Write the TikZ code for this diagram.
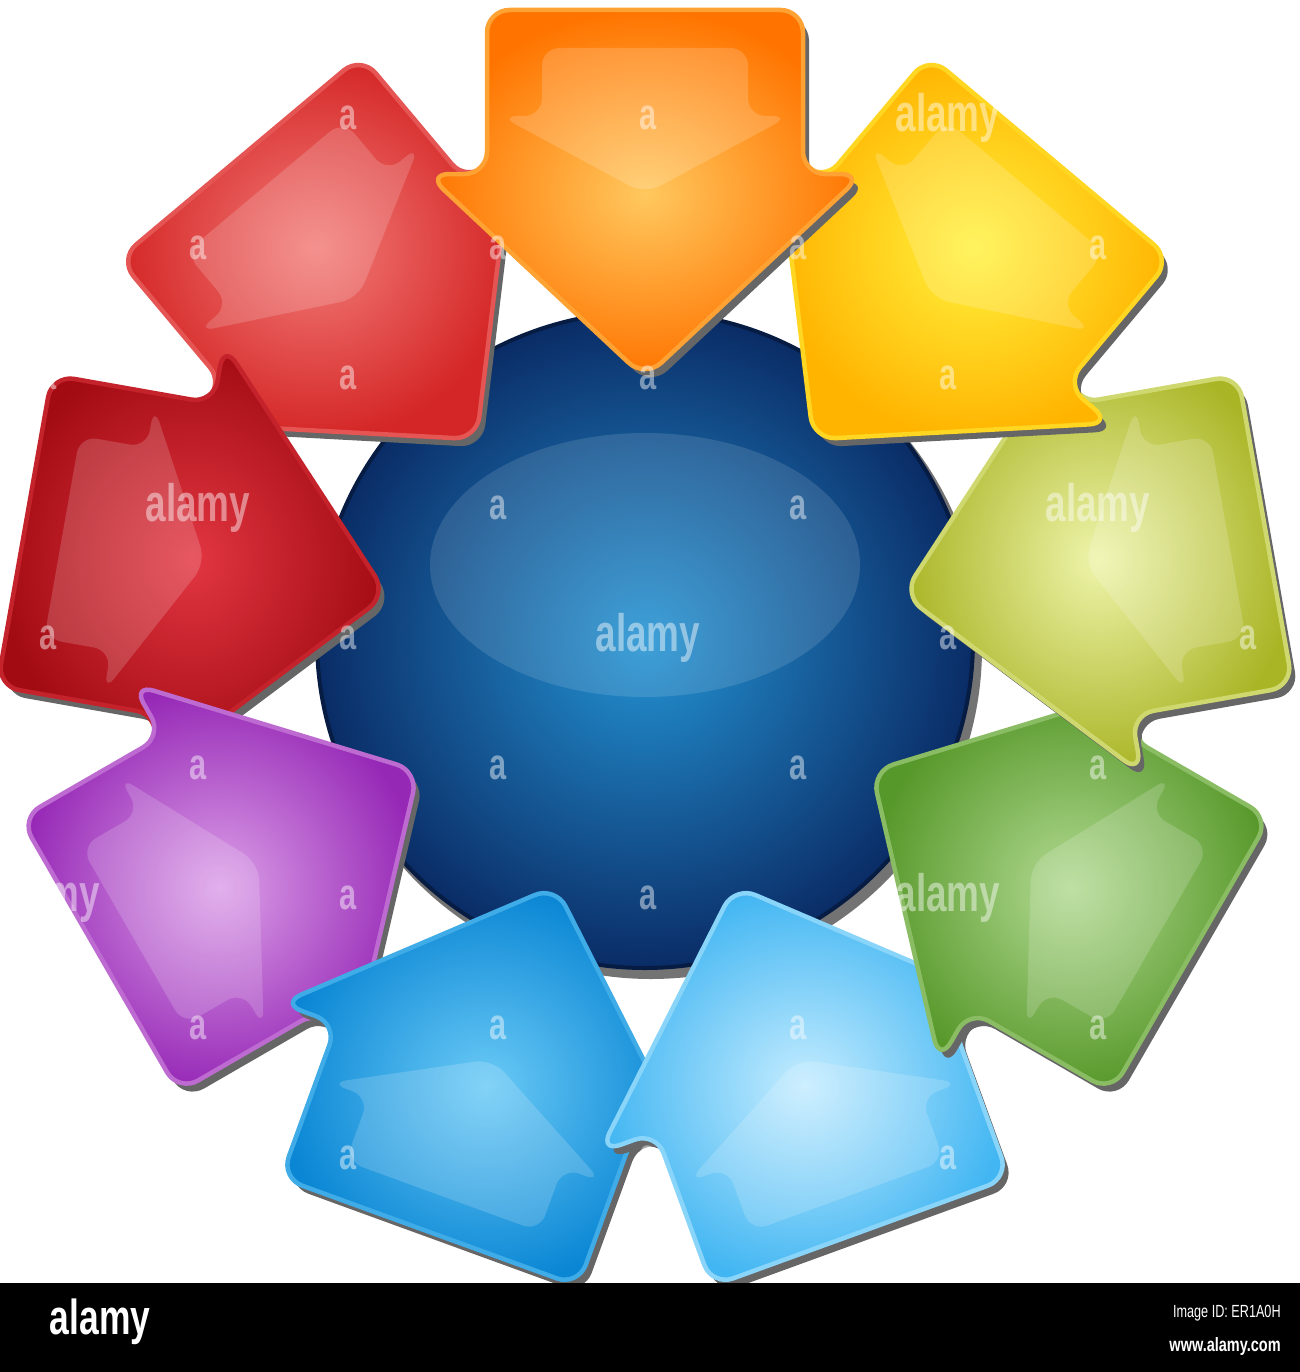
\documentclass[tikz,border=0pt]{standalone}
\usepackage{fontspec}
\setmainfont{Liberation Sans}
\usetikzlibrary{positioning}

\definecolor{redO}{HTML}{D42626}\definecolor{redI}{HTML}{F27C78}
\definecolor{dredO}{HTML}{A20B12}\definecolor{dredI}{HTML}{E23642}
\definecolor{purO}{HTML}{9628B6}\definecolor{purI}{HTML}{DCA0E8}
\definecolor{bluO}{HTML}{0A86D4}\definecolor{bluI}{HTML}{6ACAF6}
\definecolor{lbluO}{HTML}{42B6F2}\definecolor{lbluI}{HTML}{C4ECFF}
\definecolor{grnO}{HTML}{57982A}\definecolor{grnI}{HTML}{B2DA92}
\definecolor{oliO}{HTML}{AAB526}\definecolor{oliI}{HTML}{EEF4AA}
\definecolor{yelO}{HTML}{FFB400}\definecolor{yelI}{HTML}{FFF23E}
\definecolor{oraO}{HTML}{FF7400}\definecolor{oraI}{HTML}{FFC85E}
\definecolor{circO}{HTML}{0A2C66}\definecolor{circI}{HTML}{2494D4}
\definecolor{circD}{HTML}{071C42}

\newcommand{\arrowoutline}{(0,-630) -- (158,-630) -- (158,-466) -- (218,-466) -- (0,-262) -- (-218,-466) -- (-158,-466) -- (-158,-630) -- cycle}
\newcommand{\arrowglow}{(0,-592) -- (103,-592) -- (103,-524) -- (145,-524) -- (0,-446) -- (-145,-524) -- (-103,-524) -- (-103,-592) -- cycle}

\begin{document}
\begin{tikzpicture}[x=0.02cm,y=-0.02cm,
 arrow shadow/.style={fill=black!60,rounded corners=0.45cm},
 arrow body/.style={rounded corners=0.45cm,line width=0.09cm},
 arrow glow/.style={fill=white,fill opacity=0.17,rounded corners=0.35cm},
 wm letter/.style={text=white,text opacity=0.45,inner sep=0pt,font=\bfseries\fontsize{25}{25}\selectfont},
 wm word/.style={wm letter,font=\bfseries\fontsize{30}{30}\selectfont},
 bar text/.style={text=white,inner sep=0pt,anchor=east}]
  \useasboundingbox (0,0) rectangle (1300,1372);
  \fill[white] (0,0) rectangle (1300,1372);
  \coordinate (C) at (645,640);

  % centre disc
  \fill[black!55] (651,648) circle (331);
  \shade[inner color=circI,outer color=circO,draw=circD,line width=0.08cm] (C) circle (328);
  \fill[white,fill opacity=0.12] (645,565) ellipse [x radius=215,y radius=132];

  % arrows, drawn round the disc so each one lies over the one before
  \foreach \ang/\co/\ci in {-320/redO/redI, -280/dredO/dredI, -240/purO/purI,
      -200/bluO/bluI, -160/lbluO/lbluI, -120/grnO/grnI, -80/oliO/oliI,
      -40/yelO/yelI, 0/oraO/oraI} {
    \begin{scope}[shift={(651,648)},rotate=\ang]
      \fill[arrow shadow] \arrowoutline;
    \end{scope}
    \begin{scope}[shift={(C)},rotate=\ang]
      \shade[arrow body,inner color=\ci,outer color=\co,draw=\ci!55!\co] \arrowoutline;
      \fill[arrow glow] \arrowglow;
    \end{scope}
  }

  % watermark
  \foreach \r in {0,...,8} {
    \pgfmathtruncatemacro{\odd}{mod(\r,2)}
    \foreach \k in {0,...,4} {
      \pgfmathtruncatemacro{\n}{10*\r+\k}
      \pgfmathtruncatemacro{\hit}{(\n==3)+(\n==30)+(\n==33)+(\n==42)+(\n==60)+(\n==63)}
      \pgfmathsetmacro{\wx}{48+300*\k+150*\odd}
      \pgfmathsetmacro{\wy}{118+130*\r}
      \ifnum\numexpr\odd*\k+4*\hit<4
        \node[wm letter] (wm-\r-\k) at (\wx,\wy) {\scalebox{0.7}[1]{a}};
      \fi
    }
  }
  \foreach \wx/\wy [count=\i] in {948/118, 198/508, 1098/508, 648/638, 48/898, 948/898}
    \node[wm word] (wmw-\i) at (\wx,\wy) {\scalebox{0.7}[1]{alamy}};

  % bottom bar
  \fill[black] (0,1283) rectangle (1300,1372);
  \node[text=white,inner sep=0pt,font=\bfseries\fontsize{28}{28}\selectfont] (logo) at (100,1322) {\scalebox{0.72}[1]{alamy}};
  \node[bar text,font=\fontsize{10}{10}\selectfont] (imgid) at (1281,1313) {\scalebox{0.72}[1]{Image ID: ER1A0H}};
  \node[bar text,font=\bfseries\fontsize{11}{11}\selectfont] (site) at (1281,1346) {\scalebox{0.75}[1]{www.alamy.com}};
\end{tikzpicture}
\end{document}
